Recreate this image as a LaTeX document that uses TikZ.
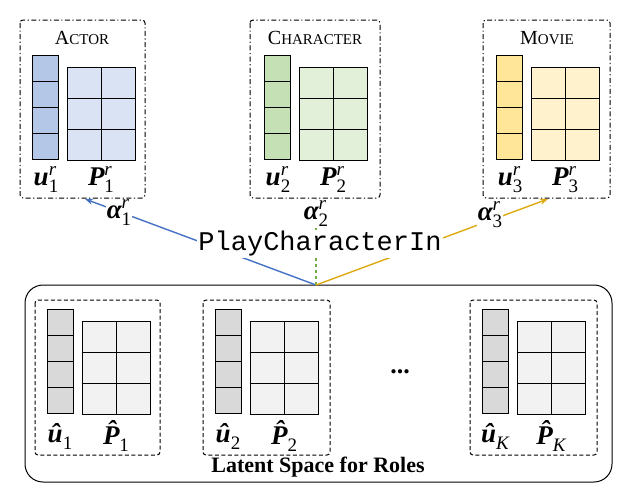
\documentclass[tikz,border=0pt]{standalone}
\usepackage{fontspec}
\setmainfont{Liberation Serif}
\setmonofont{Liberation Mono}
\usetikzlibrary{arrows.meta}
\definecolor{bD}{HTML}{B4C7E7}\definecolor{bL}{HTML}{DAE3F3}
\definecolor{gD}{HTML}{C5E0B4}\definecolor{gL}{HTML}{E2F0D9}
\definecolor{yD}{HTML}{FFE699}\definecolor{yL}{HTML}{FFF2CC}
\definecolor{kD}{HTML}{D9D9D9}\definecolor{kL}{HTML}{F2F2F2}
\definecolor{aB}{HTML}{4472C4}\definecolor{aG}{HTML}{70AD47}\definecolor{aY}{HTML}{DDAA10}
\newcommand\myblk[4]{% x of u col, ytop of u col, dark, light
  \foreach \i in {0,...,3}{\draw[fill=#3,line width=1pt] (#1,#2+\i*26) rectangle ++(26,26);}
  \foreach \i in {0,1,2}{\foreach \j in {0,1}{\draw[fill=#4,line width=1pt] (#1+35+\j*34,#2+12+\i*31) rectangle ++(34,31);}}}
\newcommand\fsc[2]{#1{\fontsize{15}{16}\selectfont #2}}
\newcommand\lbl[3]{{\fontsize{27}{28}\selectfont\bfseries\itshape #1}\rlap{\raisebox{10pt}{\fontsize{19}{19}\selectfont\itshape #2}}\raisebox{-7pt}{\fontsize{19}{19}\selectfont #3}}
\begin{document}
\begin{tikzpicture}[x=1pt,y=-1pt,
  frame/.style={draw=black,dash pattern=on 5pt off 2.5pt on 1.2pt off 2.5pt,line width=1pt,rounded corners=3pt},
  dframe/.style={draw=black,dash pattern=on 4pt off 2.5pt,line width=1pt,rounded corners=3pt},
  lab/.style={inner sep=1pt},
  ttl/.style={font=\fontsize{20}{22}\selectfont},
  alab/.style={fill=white,inner sep=1pt}]
\useasboundingbox (0,0) rectangle (631,498);
% top frames
\draw[frame] (20,20) rectangle (145,198);
\draw[frame] (250,20) rectangle (380,198);
\draw[frame] (483,20) rectangle (610,198);
\node[ttl] (ta) at (82,38) {\fsc{A}{CTOR}};
\node[ttl] (tc) at (315,38) {\fsc{C}{HARACTER}};
\node[ttl] (tm) at (547,38) {\fsc{M}{OVIE}};
\myblk{32}{55}{bD}{bL}
\myblk{264}{55}{gD}{gL}
\myblk{496}{55}{yD}{yL}
\node[lab] (u1) at (46,180) {\lbl{u}{r}{1}};
\node[lab] (p1) at (101,180) {\lbl{P}{r}{1}};
\node[lab] (u2) at (278,180) {\lbl{u}{r}{2}};
\node[lab] (p2) at (333,180) {\lbl{P}{r}{2}};
\node[lab] (u3) at (510,180) {\lbl{u}{r}{3}};
\node[lab] (p3) at (565,180) {\lbl{P}{r}{3}};
\coordinate (t1) at (85,199);
\coordinate (t2) at (316,199);
\coordinate (t3) at (548,199);
% big box
\draw[line width=1pt,rounded corners=18pt] (25,285) rectangle (612,482);
\coordinate (src) at (316,285);
\draw[aB,line width=1.4pt,-{Stealth[length=8pt]}] (src) -- (t1);
\draw[aG,line width=1.4pt,dashed,-{Stealth[length=8pt]}] (src) -- (t2);
\draw[aY,line width=1.4pt,-{Stealth[length=8pt]}] (src) -- (t3);
\node[alab] (a1) at (119,213) {\lbl{α}{r}{1}};
\node[alab] (a2) at (316,214) {\lbl{α}{r}{2}};
\node[alab] (a3) at (490,215) {\lbl{α}{r}{3}};
\node[fill=white,inner sep=1pt,font=\fontsize{27}{28}\selectfont\ttfamily] (rel) at (320,244) {PlayCharacterIn};
% latent
\draw[dframe] (35,300) rectangle (160,455);
\draw[dframe] (203,300) rectangle (330,455);
\draw[dframe] (470,300) rectangle (597,455);
\myblk{47}{309}{kD}{kL}
\myblk{215}{309}{kD}{kL}
\myblk{482}{309}{kD}{kL}
\node[lab] (h1) at (60,436) {\lbl{\^{u}}{}{1}};
\node[lab] (q1) at (116,436) {\lbl{\^{P}}{}{1}};
\node[lab] (h2) at (228,436) {\lbl{\^{u}}{}{2}};
\node[lab] (q2) at (284,436) {\lbl{\^{P}}{}{2}};
\node[lab] (h3) at (495,436) {\lbl{\^{u}}{}{\itshape K}};
\node[lab] (q3) at (551,436) {\lbl{\^{P}}{}{\itshape K}};
\node[font=\fontsize{26}{26}\selectfont\bfseries] (dots) at (400,372) {...};
\node[font=\fontsize{22}{22}\selectfont\bfseries] (ls) at (318,467) {Latent Space for Roles};
\end{tikzpicture}
\end{document}
